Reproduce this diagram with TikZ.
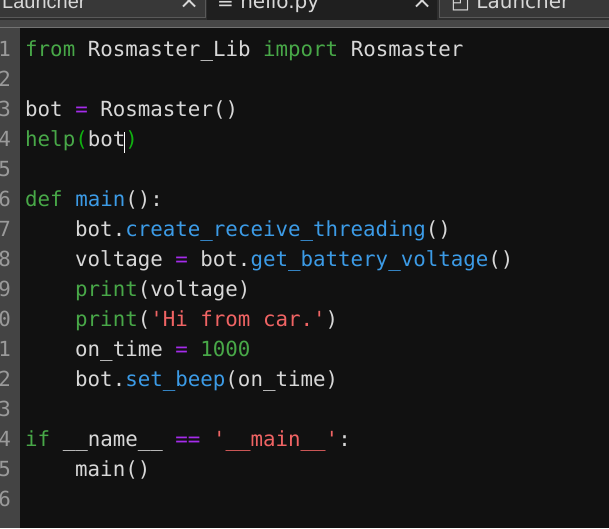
\documentclass[tikz,border=0pt]{standalone}
\usepackage{fontspec}
\newfontfamily\code{DejaVu Sans Mono}
\newfontfamily\ui{Liberation Sans}
\newfontfamily\sym{DejaVu Sans}
\definecolor{bg}{HTML}{111111}
\definecolor{gut}{HTML}{444444}
\definecolor{lnum}{HTML}{9A9A9A}
\definecolor{tx}{HTML}{D8D8D8}
\definecolor{kw}{HTML}{48A848}
\definecolor{bl}{HTML}{3C9BE6}
\definecolor{rd}{HTML}{F06464}
\definecolor{pu}{HTML}{A52CEB}
\definecolor{mb}{HTML}{10B010}
\newcommand\cK[1]{\textcolor{kw}{#1}}
\newcommand\cB[1]{\textcolor{bl}{#1}}
\newcommand\cR[1]{\textcolor{rd}{#1}}
\newcommand\cP[1]{\textcolor{pu}{#1}}
\newcommand\cQ{\char"27}
\begin{document}
\begin{tikzpicture}[x=1pt,y=-1pt,
  cl/.style={anchor=base west,inner sep=0pt,text=tx,font=\code\fontsize{20.8}{20.8}\selectfont},
  ln/.style={anchor=base east,inner sep=0pt,text=lnum,font=\code\fontsize{20.8}{20.8}\selectfont},
  tab/.style={anchor=base west,inner sep=0pt,text=tx,font=\ui\fontsize{20}{20}\selectfont}]
\useasboundingbox (0,0) rectangle (609,528);
\clip (0,0) rectangle (609,528);
\fill[bg] (0,0) rectangle (609,528);
% tab bar
\fill[black!82] (0,0) rectangle (609,28);
\fill[fill=black!78,draw=black!65] (-2,-2) rectangle (205,17);
\fill[fill=black!88] (207,-2) rectangle (437,20);
\fill[fill=black!78,draw=black!65] (439,-2) rectangle (611,17);
\fill[black!72] (0,20) rectangle (609,27);
\draw[black!55] (0,27.5) -- (609,27.5);
\node[tab] (t1) at (2,8) {Launcher};
\node[tab] (x1) at (179,8) {\sym\fontsize{24}{24}\selectfont ×};
\node[tab] (t2) at (217,8) {\sym ≡ hello.py};
\node[tab] (x2) at (412,8) {\sym\fontsize{24}{24}\selectfont ×};
\node[tab] (t3) at (451,8) {\sym ◰ Launcher};
% gutter
\fill[gut] (0,28) rectangle (20,528);
\foreach \i in {1,...,16}{
  \node[ln] (n\i) at (11,{56+30*(\i-1)}) {\i};
}
\node[cl] (l1) at (25,56) {\cK{from} Rosmaster\_Lib \cK{import} Rosmaster};
\node[cl] (l3) at (25,116) {bot \cP{=} Rosmaster()};
\node[cl] (l4) at (25,146) {\cK{help}\textcolor{mb}{(}bot\textcolor{mb}{)}};
\draw[white] (124.5,132) -- (124.5,153);
\node[cl] (l6) at (25,206) {\cK{def} \cB{main}():};
\node[cl] (l7) at (75,236) {bot.\cB{create\_receive\_threading}()};
\node[cl] (l8) at (75,266) {voltage \cP{=} bot.\cB{get\_battery\_voltage}()};
\node[cl] (l9) at (75,296) {\cK{print}(voltage)};
\node[cl] (l10) at (75,326) {\cK{print}(\cR{\cQ Hi from car.\cQ})};
\node[cl] (l11) at (75,356) {on\_time \cP{=} \cK{1000}};
\node[cl] (l12) at (75,386) {bot.\cB{set\_beep}(on\_time)};
\node[cl] (l14) at (25,446) {\cK{if} \_\_name\_\_ \cP{==} \cR{\cQ\_\_main\_\_\cQ}:};
\node[cl] (l15) at (75,476) {main()};
\end{tikzpicture}
\end{document}
